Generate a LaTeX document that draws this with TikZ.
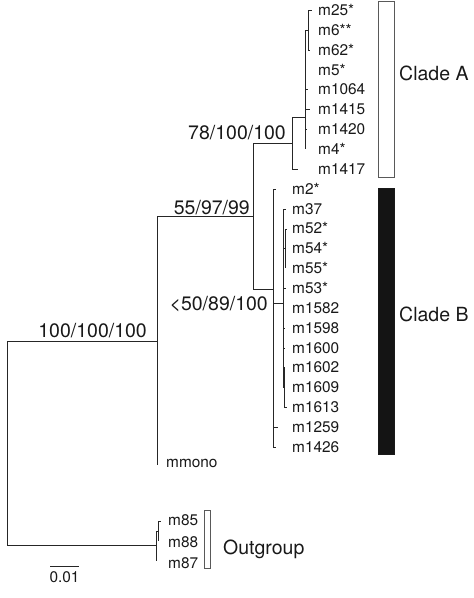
\documentclass[tikz,border=0pt]{standalone}
\usepackage{fontspec}
\setmainfont{TeX Gyre Heros}
\newcommand{\tipfnt}{\fontsize{15.4}{18}\selectfont}
\newcommand{\supfnt}{\fontsize{19.5}{23}\selectfont}
\begin{document}
\begin{tikzpicture}[x=1pt,y=-1pt,
  branch/.style={line width=0.85pt,draw=black!85},
  tiplab/.style={anchor=base west,inner sep=0pt,font=\tipfnt,text=black!90},
  suplab/.style={anchor=base east,inner sep=0pt,font=\supfnt,text=black!90},
  cladelab/.style={anchor=base west,inner sep=0pt,font=\supfnt,text=black!90},
  barwhite/.style={draw=black!65,line width=0.9pt,fill=white},
  barblack/.style={draw=black!90,line width=0.9pt,fill=black!92}]
\useasboundingbox (0,0) rectangle (474,598);
% internal nodes
\coordinate (R) at (7,341);
\coordinate (N1) at (157,341);
\coordinate (Ning) at (253,216);
\coordinate (A0) at (292,143);
\coordinate (A1) at (305,117);
\coordinate (A2) at (308,30);
\coordinate (B0) at (273,289);
\coordinate (B1) at (283,303);
\coordinate (B2) at (285,248);
\coordinate (B3) at (284,387);
\coordinate (O) at (156,545);
\coordinate (O1) at (158,531);
% tips
\coordinate (tm25) at (312,10);
\coordinate (tm6) at (308,30);
\coordinate (tm62) at (310,50);
\coordinate (tm5) at (305,69.5);
\coordinate (tm1064) at (308,89);
\coordinate (tm1415) at (310,109);
\coordinate (tm1420) at (307,129);
\coordinate (tm4) at (305,149);
\coordinate (tm1417) at (298,169);
\coordinate (tm2) at (276,189);
\coordinate (tm37) at (286,209);
\coordinate (tm52) at (287,229);
\coordinate (tm54) at (285,248);
\coordinate (tm55) at (285,268);
\coordinate (tm53) at (286,288);
\coordinate (tm1582) at (283,307);
\coordinate (tm1598) at (285,328);
\coordinate (tm1600) at (285,348);
\coordinate (tm1602) at (284,367);
\coordinate (tm1609) at (284,387);
\coordinate (tm1613) at (287,407);
\coordinate (tm1259) at (278,427);
\coordinate (tm1426) at (276,447);
\coordinate (tmmono) at (157,465);
\coordinate (tm85) at (161,521);
\coordinate (tm88) at (158,541);
\coordinate (tm87) at (156,561);
% branches
\draw[branch] (R) |- (N1);
\draw[branch] (R) |- (O);
\draw[branch] (N1) |- (Ning);
\draw[branch] (N1) |- (tmmono);
\draw[branch] (Ning) |- (A0);
\draw[branch] (Ning) |- (B0);
\draw[branch] (A0) |- (A1);
\draw[branch] (A0) |- (tm1417);
\draw[branch] (A1) |- (A2);
\draw[branch] (A1) |- (tm5);
\draw[branch] (A1) |- (tm1064);
\draw[branch] (A1) |- (tm1415);
\draw[branch] (A1) |- (tm1420);
\draw[branch] (A1) |- (tm4);
\draw[branch] (A2) |- (tm25);
\draw[branch] (A2) |- (tm6);
\draw[branch] (A2) |- (tm62);
\draw[branch] (B0) |- (tm2);
\draw[branch] (B0) |- (B1);
\draw[branch] (B0) |- (tm1259);
\draw[branch] (B0) |- (tm1426);
\draw[branch] (B1) |- (tm37);
\draw[branch] (B1) |- (B2);
\draw[branch] (B1) |- (tm53);
\draw[branch] (B1) |- (tm1582);
\draw[branch] (B1) |- (tm1598);
\draw[branch] (B1) |- (tm1600);
\draw[branch] (B1) |- (B3);
\draw[branch] (B2) |- (tm52);
\draw[branch] (B2) |- (tm54);
\draw[branch] (B2) |- (tm55);
\draw[branch] (B3) |- (tm1602);
\draw[branch] (B3) |- (tm1609);
\draw[branch] (B3) |- (tm1613);
\draw[branch] (O) |- (O1);
\draw[branch] (O) |- (tm87);
\draw[branch] (O1) |- (tm85);
\draw[branch] (O1) |- (tm88);
% tip labels
\node[tiplab] (l1) at (318,15.4) {m25*};
\node[tiplab] (l2) at (318,35.3) {m6**};
\node[tiplab] (l3) at (318,55.1) {m62*};
\node[tiplab] (l4) at (318,75.0) {m5*};
\node[tiplab] (l5) at (318,94.8) {m1064};
\node[tiplab] (l6) at (318,114.7) {m1415};
\node[tiplab] (l7) at (318,134.6) {m1420};
\node[tiplab] (l8) at (318,154.4) {m4*};
\node[tiplab] (l9) at (318,174.3) {m1417};
\node[tiplab] (l10) at (292,194.1) {m2*};
\node[tiplab] (l11) at (292,214.0) {m37};
\node[tiplab] (l12) at (292,233.9) {m52*};
\node[tiplab] (l13) at (292,253.7) {m54*};
\node[tiplab] (l14) at (292,273.6) {m55*};
\node[tiplab] (l15) at (292,293.5) {m53*};
\node[tiplab] (l16) at (292,313.3) {m1582};
\node[tiplab] (l17) at (292,333.2) {m1598};
\node[tiplab] (l18) at (292,353.0) {m1600};
\node[tiplab] (l19) at (292,372.9) {m1602};
\node[tiplab] (l20) at (292,392.8) {m1609};
\node[tiplab] (l21) at (292,412.6) {m1613};
\node[tiplab] (l22) at (292,432.5) {m1259};
\node[tiplab] (l23) at (292,452.4) {m1426};
\node[tiplab] (l24) at (166,467) {mmono};
\node[tiplab] (l25) at (168,525.5) {m85};
\node[tiplab] (l26) at (168,547) {m88};
\node[tiplab] (l27) at (168,568) {m87};
% support values
\node[suplab] (s1) at (286,139) {78/100/100};
\node[suplab] (s2) at (250,214) {55/97/99};
\node[suplab] (s3) at (268,310) {<50/89/100};
\node[suplab] (s4) at (147,337) {100/100/100};
% clade bars
\draw[barwhite] (378,1) rectangle (394,177);
\draw[barblack] (378,188) rectangle (394,454);
\draw[barwhite] (204,510) rectangle (210,568);
\node[cladelab] (cA) at (399,80) {Clade A};
\node[cladelab] (cB) at (399,321) {Clade B};
\node[cladelab] (cO) at (223,554) {Outgroup};
% scale bar
\coordinate (sb1) at (50,566);
\coordinate (sb2) at (79,566);
\draw[branch] (sb1) -- (sb2);
\node[tiplab,anchor=base] (sbl) at (64.5,582.4) {0.01};
\end{tikzpicture}
\end{document}
